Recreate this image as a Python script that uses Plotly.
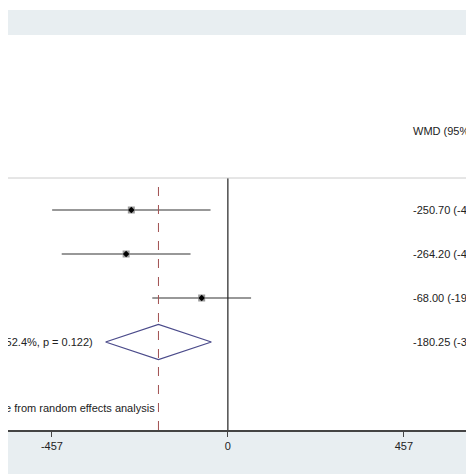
import plotly.graph_objects as go

est = [-250.70, -264.20, -68.00]
lo = [-456.40, -431.50, -196.30]
hi = [-45.00, -96.90, 60.30]
rows = [5, 4, 3]
pooled = -180.25
pooled_lo = -317.60
pooled_hi = -42.90
pooled_row = 2
labels = ["-250.70 (-456.40, -45.00)", "-264.20 (-431.50, -96.90)", "-68.00 (-196.30, 60.30)"]
pooled_label = "-180.25 (-317.60, -42.90)"
ticks = [-457, 0, 457]

ytop = 252 / 44
fig = go.Figure()
fig.add_trace(go.Scatter(x=est, y=rows, mode="markers",
    marker=dict(symbol="square", size=7, color="#9a9a9a"),
    error_x=dict(type="data", symmetric=False,
                 array=[h - e for h, e in zip(hi, est)],
                 arrayminus=[e - l for e, l in zip(est, lo)],
                 color="#333", thickness=1.2, width=0), showlegend=False))
fig.add_trace(go.Scatter(x=est, y=rows, mode="markers",
    marker=dict(symbol="diamond", size=5, color="black"), showlegend=False))
fig.add_trace(go.Scatter(x=[pooled_lo, pooled, pooled_hi, pooled, pooled_lo],
    y=[pooled_row, pooled_row + 0.4, pooled_row, pooled_row - 0.4, pooled_row],
    mode="lines", line=dict(color="#4a4a8a", width=1.2), showlegend=False))
fig.add_trace(go.Scatter(x=[0, 0], y=[0, ytop], mode="lines",
    line=dict(color="#222", width=1.2), showlegend=False))
fig.add_trace(go.Scatter(x=[pooled, pooled], y=[0, ytop], mode="lines",
    line=dict(color="#a05050", width=1, dash="dash"), showlegend=False))

ann = []
for r, t in zip(rows, labels):
    ann.append(dict(x=475, y=r, text=t, xanchor="left", showarrow=False))
ann.append(dict(x=475, y=pooled_row, text=pooled_label, xanchor="left", showarrow=False))
ann.append(dict(x=-345, y=pooled_row, text="Overall  (I-squared = 52.4%, p = 0.122)", xanchor="right", showarrow=False))
ann.append(dict(x=-185, y=0.5, text="NOTE: Weights are from random effects analysis", xanchor="right", showarrow=False))
ann.append(dict(x=475, y=(474 - 115) / 474, yref="paper", text="WMD (95% CI)", xanchor="left", showarrow=False))
for a in ann:
    a["font"] = dict(family="Liberation Sans, Arial", size=11, color="#222")

fig.update_layout(
    width=474, height=474, margin=dict(l=0, r=0, t=0, b=0, autoexpand=False),
    paper_bgcolor="white", plot_bgcolor="white", annotations=ann,
    shapes=[
        dict(type="rect", xref="paper", yref="paper", x0=0, x1=1, y0=(474 - 27) / 474, y1=(474 - 2) / 474,
             fillcolor="#e8eef1", line_width=0, layer="below"),
        dict(type="rect", xref="paper", yref="paper", x0=0, x1=1, y0=0, y1=(474 - 422) / 474,
             fillcolor="#e8eef1", line_width=0, layer="below"),
        dict(type="line", xref="paper", yref="paper", x0=0, x1=1, y0=(474 - 170) / 474, y1=(474 - 170) / 474,
             line=dict(color="#cccccc", width=1)),
    ],
    xaxis=dict(range=[-571, 660], tickvals=ticks, ticktext=[str(t) for t in ticks],
               ticks="outside", ticklen=5, tickcolor="#444", showgrid=False, zeroline=False,
               showline=True, linecolor="#444", linewidth=1.5,
               tickfont=dict(family="Liberation Sans, Arial", size=11, color="#222")),
    yaxis=dict(range=[0, ytop], domain=[(474 - 422) / 474, (474 - 170) / 474],
               visible=False, showgrid=False, zeroline=False),
)
fig.write_html("out.html")
